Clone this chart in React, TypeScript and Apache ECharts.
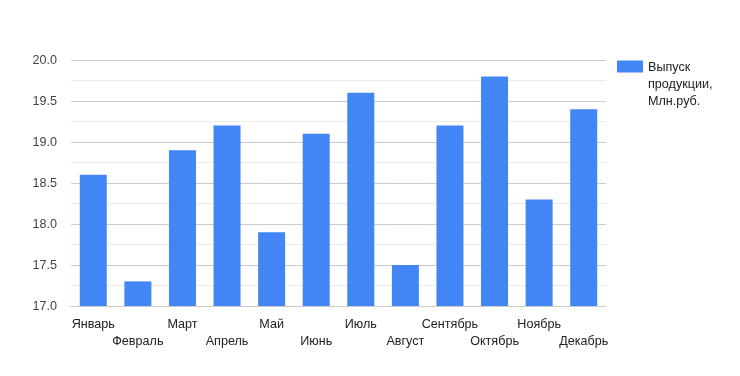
import React, { useEffect, useRef } from "react";
import * as echarts from "echarts";

const months = ["Январь", "Февраль", "Март", "Апрель", "Май", "Июнь", "Июль", "Август", "Сентябрь", "Октябрь", "Ноябрь", "Декабрь"];
const output = [18.6, 17.3, 18.9, 19.2, 17.9, 19.1, 19.6, 17.5, 19.2, 19.8, 18.3, 19.4];
const seriesName = "Выпуск\nпродукции,\nМлн.руб.";

export default function App() {
  const ref = useRef<HTMLDivElement>(null);
  useEffect(() => {
    const chart = echarts.init(ref.current!, null, { renderer: "svg" });
    chart.setOption({
      animation: false,
      textStyle: { fontFamily: "Liberation Sans, Arial, sans-serif" },
      grid: { left: 71, right: 134, top: 60, bottom: 70 },
      legend: {
        orient: "vertical",
        left: 617,
        top: 24,
        padding: 0,
        itemWidth: 26,
        itemHeight: 12,
        icon: "rect",
        formatter: (n: string) => "\n\n" + n,
        textStyle: { fontSize: 12.6, color: "#222", lineHeight: 17 },
        data: [seriesName],
      },
      xAxis: {
        type: "category",
        data: months,
        axisTick: { show: false },
        axisLine: { lineStyle: { color: "#ccc" } },
        axisLabel: {
          interval: 0,
          color: "#222",
          fontSize: 12.6,
          lineHeight: 17,
          margin: 9,
          formatter: (v: string, i: number) => (i % 2 ? "\n" + v : v),
        },
      },
      yAxis: {
        type: "value",
        min: 17,
        max: 20,
        interval: 0.5,
        axisLine: { show: false },
        axisTick: { show: false },
        axisLabel: { color: "#444", fontSize: 12.6, margin: 14, formatter: (v: number) => v.toFixed(1) },
        splitLine: { lineStyle: { color: "#ccc" } },
        minorTick: { show: false, splitNumber: 2 },
        minorSplitLine: { show: true, lineStyle: { color: "#ebebeb" } },
      },
      series: [
        {
          name: seriesName,
          type: "bar",
          data: output,
          barWidth: 27,
          itemStyle: { color: "#4285f4" },
        },
      ],
    });
    return () => chart.dispose();
  }, []);
  return <div ref={ref} style={{ position: "fixed", left: 0, top: 0, width: 740, height: 376 }} />;
}
